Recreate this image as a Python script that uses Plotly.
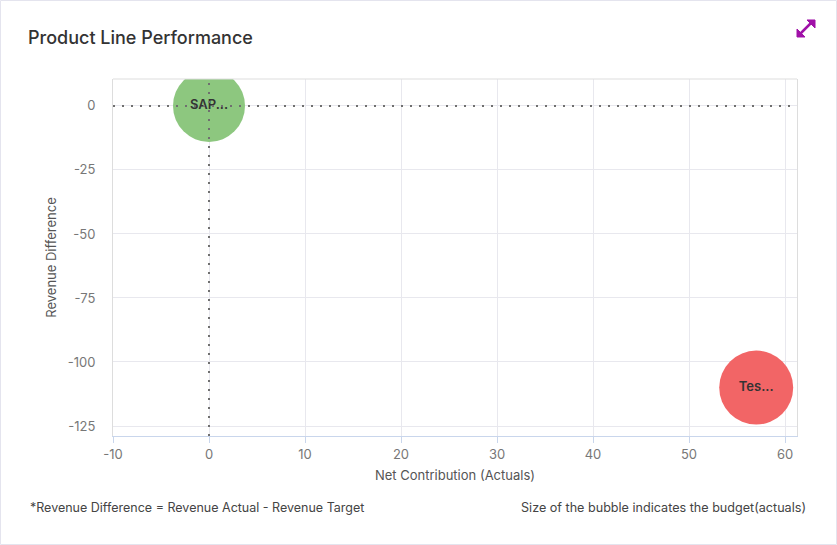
import plotly.graph_objects as go

# Data
product_lines = ["SAP...", "Tes..."]
net_contribution = [0, 57]
revenue_difference = [0, -110]
budget_actuals = [72, 74]

x_tick_vals = [-10, 0, 10, 20, 30, 40, 50, 60]
x_tick_text = ["-10", "0", "10", "20", "30", "40", "50", "60"]
y_tick_vals = [0, -25, -50, -75, -100, -125]
y_tick_text = ["0", "-25", "-50", "-75", "-100", "-125"]

bubble_colors = ["#8DC77F", "#F26566"]

W, H = 837, 545
ML, MR, MT, MB = 113, 40, 79, 109
PW, PH = W - ML - MR, H - MT - MB


def px(x):
    return (x - ML) / PW


def py(y):
    return (H - MB - y) / PH


def path(points):
    return "M " + " L ".join(f"{px(a):.5f},{py(b):.5f}" for a, b in points) + " Z"


fig = go.Figure()
fig.add_trace(go.Scatter(
    x=net_contribution, y=revenue_difference,
    mode="markers+text",
    text=product_lines,
    textposition="middle center",
    textfont=dict(family="Inter, sans-serif", size=13, color="#333333", weight=600),
    marker=dict(size=budget_actuals, sizemode="diameter", sizeref=1,
                color=bubble_colors, opacity=1, line=dict(width=0)),
    hoverinfo="x+y+text",
    showlegend=False,
))

icon_color = "#A011A8"

fig.update_layout(
    width=W, height=H,
    margin=dict(l=ML, r=MR, t=MT, b=MB),
    paper_bgcolor="white", plot_bgcolor="white",
    font=dict(family="Inter, sans-serif", color="#666666", size=12),
    title=dict(text="Product Line Performance", x=28 / W, xanchor="left",
               y=1 - 38 / H, yanchor="middle",
               font=dict(family="Inter, sans-serif", size=18, color="#333333", weight=500)),
    xaxis=dict(range=[-10, 61.25], tickmode="array", tickvals=x_tick_vals, ticktext=x_tick_text,
               showgrid=True, gridcolor="#e8e8ee", gridwidth=1, zeroline=False,
               showline=True, linecolor="#c9d6ec", linewidth=1,
               ticks="outside", ticklen=6, tickcolor="#c9d6ec",
               tickfont=dict(size=13, color="#777777"),
               title=dict(text="Net Contribution (Actuals)", standoff=10,
                          font=dict(size=13, color="#555555"))),
    yaxis=dict(range=[-128.9, 10.5], tickmode="array", tickvals=y_tick_vals, ticktext=y_tick_text,
               showgrid=True, gridcolor="#e8e8ee", gridwidth=1, zeroline=False,
               showline=True, linecolor="#dddddd", linewidth=1, mirror=True,
               ticks="", ticklabelstandoff=14,
               tickfont=dict(size=13, color="#777777"),
               title=dict(text="Revenue Difference", standoff=8,
                          font=dict(size=13, color="#555555"))),
    shapes=[
        dict(type="rect", xref="paper", yref="paper",
             x0=px(0.5), x1=px(836.5), y0=py(544.5), y1=py(0.5),
             line=dict(color="#e4e4ee", width=1), layer="below"),
        dict(type="line", xref="paper", yref="paper", x0=0, x1=1, y0=1, y1=1,
             line=dict(color="#dddddd", width=1)),
        dict(type="line", xref="x", yref="paper", x0=0, x1=0, y0=0, y1=1,
             line=dict(color="#6f6f6f", width=2, dash="2px,7px"), layer="above"),
        dict(type="line", xref="paper", yref="y", x0=0, x1=1, y0=0, y1=0,
             line=dict(color="#6f6f6f", width=2, dash="2px,7px"), layer="above"),
        # expand icon
        dict(type="line", xref="paper", yref="paper",
             x0=px(800), y0=py(34), x1=px(812), y1=py(22),
             line=dict(color=icon_color, width=2.5)),
        dict(type="path", xref="paper", yref="paper",
             path=path([(815, 20), (807, 20), (815, 28)]),
             fillcolor=icon_color, line=dict(color=icon_color, width=1)),
        dict(type="path", xref="paper", yref="paper",
             path=path([(797, 37), (797, 29), (805, 37)]),
             fillcolor=icon_color, line=dict(color=icon_color, width=1)),
    ],
    annotations=[
        dict(text="*Revenue Difference = Revenue Actual - Revenue Target",
             xref="paper", yref="paper", x=px(28), y=py(507),
             xanchor="left", yanchor="middle", showarrow=False,
             font=dict(size=12.5, color="#444444")),
        dict(text="Size of the bubble indicates the budget(actuals)",
             xref="paper", yref="paper", x=px(808), y=py(507),
             xanchor="right", yanchor="middle", showarrow=False,
             font=dict(size=12.6, color="#444444")),
    ],
)

fig.write_html("out.html", config={"displayModeBar": False},
               post_script="document.body.style.margin='0';document.body.style.overflow='hidden';")
